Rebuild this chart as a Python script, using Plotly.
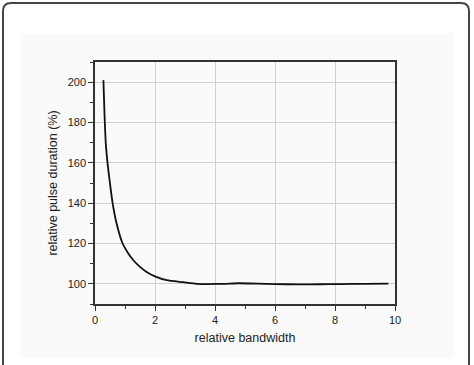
import plotly.graph_objects as go

bandwidth = [0.28, 0.32, 0.36, 0.42, 0.50, 0.59, 0.72, 0.92, 1.10, 1.28, 1.50, 1.72, 2.00, 2.39, 2.94, 3.39, 3.80, 4.30, 4.80, 5.40, 6.00, 6.80, 7.50, 8.20, 9.00, 9.78]
duration = [201.0, 183.0, 169.5, 159.6, 149.7, 139.8, 129.9, 120.0, 115.3, 111.7, 108.4, 105.9, 103.7, 101.8, 100.8, 100.0, 99.9, 100.0, 100.3, 100.1, 99.9, 99.7, 99.8, 99.9, 100.0, 100.1]

x_ticks = [0, 2, 4, 6, 8, 10]
y_ticks = [100, 120, 140, 160, 180, 200]

W, H = 474, 365
L, R, T, B = 95, 395, 62, 304

fig = go.Figure()
fig.add_trace(go.Scatter(x=bandwidth, y=duration, mode="lines",
                         line=dict(color="#111111", width=1.8, shape="spline", smoothing=0.6),
                         showlegend=False, hoverinfo="skip"))

def px(xp):
    return (xp - L) / (R - L)

def py(yp):
    return (B - yp) / (B - T)

# rounded outer border
x0, x1, y0, y1, r = 3, 469, 3, 372, 8
pts = (f"M {px(x0+r)},{py(y0)} L {px(x1-r)},{py(y0)} Q {px(x1)},{py(y0)} {px(x1)},{py(y0+r)} "
       f"L {px(x1)},{py(y1-r)} Q {px(x1)},{py(y1)} {px(x1-r)},{py(y1)} "
       f"L {px(x0+r)},{py(y1)} Q {px(x0)},{py(y1)} {px(x0)},{py(y1-r)} "
       f"L {px(x0)},{py(y0+r)} Q {px(x0)},{py(y0)} {px(x0+r)},{py(y0)} Z")

fig.add_shape(type="rect", xref="paper", yref="paper", layer="below",
              x0=px(20), x1=px(454), y0=py(33), y1=py(358),
              fillcolor="#fafafa", line=dict(width=0))
fig.add_shape(type="path", xref="paper", yref="paper", path=pts,
              line=dict(color="#444444", width=2), fillcolor="rgba(0,0,0,0)")

axis_common = dict(showline=True, linecolor="#333333", linewidth=1.5, mirror=True,
                   ticks="outside", ticklen=5, tickcolor="#333333",
                   showgrid=True, gridcolor="#cfcfcf", gridwidth=1, zeroline=False,
                   tickfont=dict(family="Liberation Sans, Arial", size=11, color="#222222"))

fig.update_xaxes(range=[0, 10], tickvals=x_ticks, **axis_common,
                 minor=dict(dtick=1, tick0=0, ticks="outside", ticklen=3, tickcolor="#333333", showgrid=False),
                 title=dict(text="relative bandwidth", standoff=8,
                            font=dict(family="Liberation Sans, Arial", size=12.5, color="#222222")))
fig.update_yaxes(range=[90, 210], tickvals=y_ticks, **axis_common,
                 minor=dict(dtick=10, tick0=90, ticks="outside", ticklen=3, tickcolor="#333333", showgrid=False),
                 title=dict(text="relative pulse duration (%)", standoff=7,
                            font=dict(family="Liberation Sans, Arial", size=12.5, color="#222222")))

fig.update_layout(width=W, height=H, margin=dict(l=L, r=W - R, t=T, b=H - B),
                  paper_bgcolor="white", plot_bgcolor="rgba(0,0,0,0)")

fig.write_html("out.html", config={"displayModeBar": False},
               post_script="document.body.style.margin='0';document.body.style.overflow='hidden';")
